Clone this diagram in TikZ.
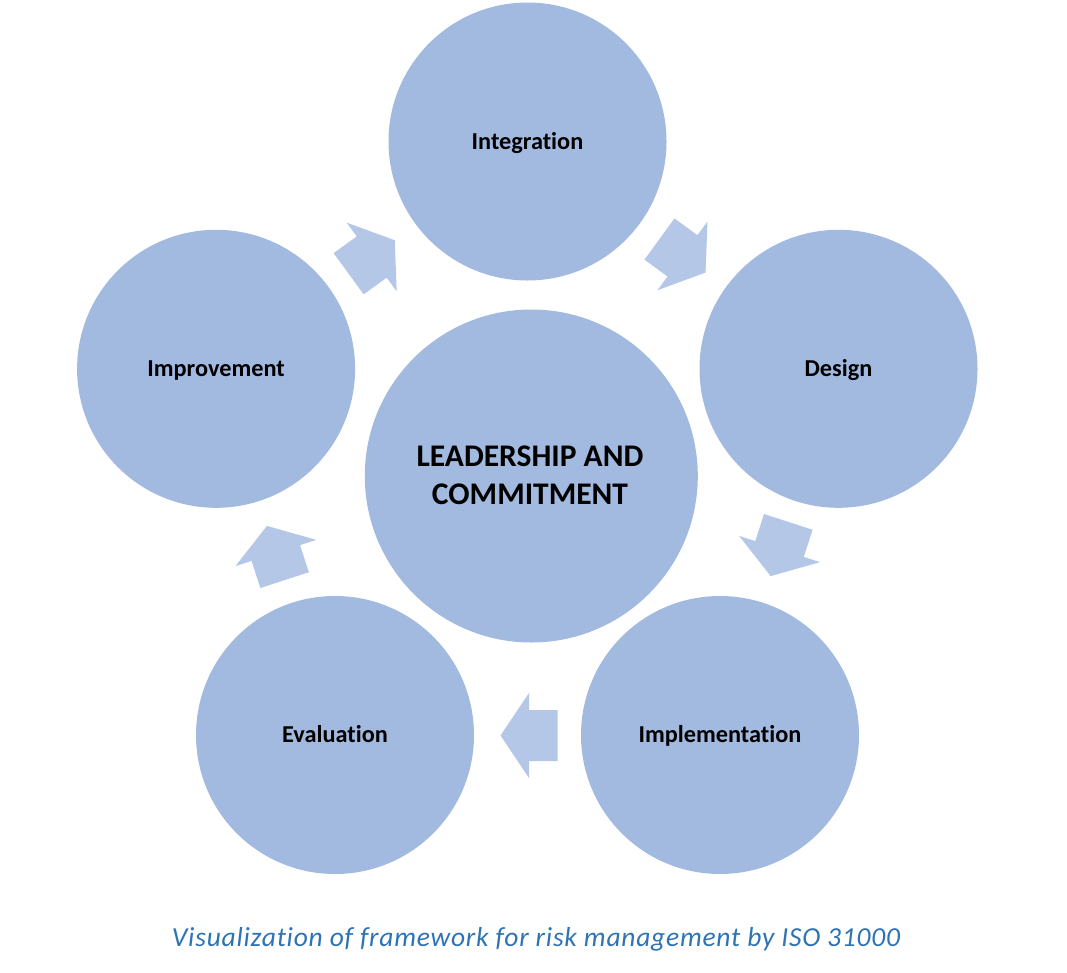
\documentclass[tikz,border=0pt]{standalone}
\usepackage{fontspec}
\setmainfont{Carlito}[Ligatures={NoCommon,NoContextual}]
\definecolor{circfill}{HTML}{A2B9E0}
\definecolor{arrfill}{HTML}{B4C7E7}
\definecolor{captcol}{HTML}{2E74B5}
\begin{document}
\begin{tikzpicture}[x=1pt,y=-1pt,
  outercirc/.style={circle, fill=circfill, minimum size=278pt, inner sep=0pt},
  centercirc/.style={circle, fill=circfill, minimum size=333pt, inner sep=0pt},
  lbl/.style={font=\fontsize{24.3}{29}\selectfont\bfseries, anchor=base, inner sep=0pt},
  biglbl/.style={font=\fontsize{31.5}{38}\selectfont\bfseries, anchor=base, inner sep=0pt},
  captionstyle/.style={font=\fontsize{27.5}{33}\selectfont\itshape\addfontfeature{LetterSpace=2.8}, text=captcol, anchor=base, inner sep=0pt},
  cyclearrow/.pic={\fill[arrfill] (-28.5,25.5) -- (0,25.5) -- (0,42.5) -- (28.5,0)
      -- (0,-42.5) -- (0,-25.5) -- (-28.5,-25.5) -- cycle;}]
\useasboundingbox[fill=white] (0,0) rectangle (1067,972);

% circles
\node[outercirc] (int) at (527.5,141.5) {};
\node[outercirc] (des) at (838.5,368.8) {};
\node[outercirc] (imp) at (720,735) {};
\node[outercirc] (eva) at (335,735) {};
\node[outercirc] (imv) at (216.1,368.8) {};
\node[centercirc] (lead) at (531.3,476) {};

% labels
\node[lbl] (tint) at ([yshift=-8pt]int.center) {Integration};
\node[lbl] (tdes) at ([yshift=-7.5pt]des.center) {Design};
\node[lbl] (timp) at ([yshift=-7.3pt]imp.center) {Implementation};
\node[lbl] (teva) at ([yshift=-7pt]eva.center) {Evaluation};
\node[lbl] (timv) at ([yshift=-7.5pt]imv.center) {Improvement};
\node[biglbl] (tlead1) at (530,466.5) {LEADERSHIP AND};
\node[biglbl] (tlead2) at (530,504.3) {COMMITMENT};

% cycle arrows
\pic[rotate=-36] (a1) at (682.5,255.8) {cyclearrow};
\pic[rotate=-108] (a2) at (779.5,549) {cyclearrow};
\pic[rotate=180] (a3) at (529,735.5) {cyclearrow};
\pic[rotate=108] (a4) at (275.8,553) {cyclearrow};
\pic[rotate=36] (a5) at (371.7,257) {cyclearrow};

% caption
\node[captionstyle] (cap) at (536,946) {Visualization of framework for risk management by ISO 31000};
\end{tikzpicture}
\end{document}
